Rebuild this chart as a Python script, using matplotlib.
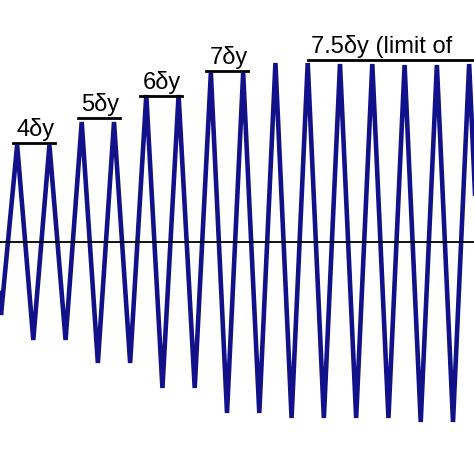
import matplotlib
matplotlib.use("Agg")
import matplotlib.pyplot as plt

# displacement history (relative units), one value per half-cycle peak
cycle_index = list(range(30))
displacement = [-73, 97, -98, 97, -98, 120, -121, 120, -121, 147, -146, 147, -146,
                169, -171, 169, -171, 179, -176, 179, -176, 178, -176, 178, -176,
                177, -180, 177, -180, 178]
labels = ["4δy", "5δy", "6δy", "7δy", "7.5δy (limit of"]

fig = plt.figure(figsize=(4.74, 4.74), dpi=100)
ax = fig.add_axes([0, 0, 1, 1])
xs = cycle_index + [30]
ys = displacement + [-180]
ax.plot([-0.3] + xs, [-20] + ys, color="#11118a", lw=3.3, solid_joinstyle="miter")
ax.axhline(0, color="black", lw=1.3)
ax.set_xlim(-0.062, 29.3)
ax.set_ylim(-232, 242)
ax.axis("off")

# labels with overbars (pixel coordinates -> figure fraction)
def lab(text, x0, x1, yline, tx, ha="center"):
    fig.add_artist(plt.Line2D([x0/474, x1/474], [1-yline/474]*2, color="black", lw=2))
    fig.text(tx/474, 1-(yline-2)/474, text, ha=ha, va="bottom", fontsize=17,
             family="Liberation Sans")

lab(labels[0], 13, 55, 143, 36)
lab(labels[1], 78, 120, 118, 100)
lab(labels[2], 140, 182, 96, 162)
lab(labels[3], 206, 248, 71, 229)
lab(labels[4], 308, 474, 60, 311, ha="left")

fig.savefig("out.png", dpi=100)
